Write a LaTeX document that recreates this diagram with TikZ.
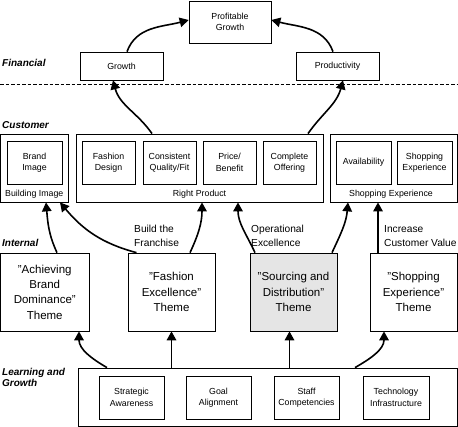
\documentclass[tikz,border=0pt]{standalone}
\usepackage{fontspec}
\setmainfont{Liberation Sans}
\usetikzlibrary{arrows.meta}

\begin{document}
\begin{tikzpicture}[x=1pt,y=-1pt,
    box/.style={draw,line width=0.7pt,inner sep=0pt,align=center,font=\fontsize{8.8}{11.5}\selectfont},
    item/.style={box,minimum width=53pt,minimum height=43pt},
    group/.style={draw,line width=0.8pt,inner sep=0pt},
    caption/.style={box,draw=none},
    theme/.style={box,minimum width=87pt,minimum height=78pt,font=\fontsize{11.5}{15.4}\selectfont},
    perspective/.style={anchor=west,align=left,inner sep=2pt,font=\fontsize{10}{11.7}\selectfont\bfseries\itshape},
    note/.style={anchor=west,align=left,inner sep=1pt,font=\fontsize{10.2}{14}\selectfont},
    flow/.style={-{Triangle[length=9pt,width=9.5pt]},line width=1.6pt}]

    \useasboundingbox (0,0) rectangle (458,427);

    % Financial
    \node[box,minimum width=82pt,minimum height=42pt] (pg) at (230,22) {Profitable\\Growth};
    \node[box,minimum width=83pt,minimum height=28pt] (gr) at (121.5,66) {Growth};
    \node[box,minimum width=83pt,minimum height=28pt] (pr) at (337.5,66) {Productivity};
    \draw[line width=1pt,dash pattern=on 3.5pt off 2pt] (0,85) -- (458,85);

    % Customer
    \node[group,minimum width=67.5pt,minimum height=68pt] (bi) at (34.25,168) {};
    \node[item,minimum width=55pt] (brand) at (34.5,162.5) {Brand\\Image};
    \node[caption] (bilabel) at (34.25,194) {Building Image};

    \node[group,minimum width=247pt,minimum height=68pt] (rp) at (199.5,168) {};
    \node[item] (fd) at (108.5,162.5) {Fashion\\Design};
    \node[item] (cq) at (169.5,162.5) {Consistent\\Quality/Fit};
    \node[item] (pb) at (229.5,162.5) {Price/\\Benefit};
    \node[item] (co) at (289.5,162.5) {Complete\\Offering};
    \node[caption] (rplabel) at (199.5,194) {Right Product};

    \node[group,minimum width=127pt,minimum height=68pt] (se) at (393.5,168) {};
    \node[item,minimum width=55pt] (av) at (363.5,162.5) {Availability};
    \node[item,minimum width=55pt] (sx) at (424.5,162.5) {Shopping\\Experience};
    \node[caption] (selabel) at (391,194) {Shopping Experience};

    % Internal themes
    \node[theme,minimum width=88.5pt] (ach) at (44.75,292) {"Achieving\\Brand\\Dominance"\\Theme};
    \node[theme] (fe) at (171.5,292) {"Fashion\\Excellence"\\Theme};
    \node[theme,fill=black!10] (sd) at (293.5,292) {"Sourcing and\\Distribution"\\Theme};
    \node[theme] (st) at (413.5,292) {"Shopping\\Experience"\\Theme};

    % Learning and growth
    \node[group,minimum width=379pt,minimum height=58pt] (lg) at (267.5,397) {};
    \node[item,minimum width=65pt] (sa) at (131.5,397.5) {Strategic\\Awareness};
    \node[item,minimum width=65pt] (ga) at (218.5,397.5) {Goal\\Alignment};
    \node[item,minimum width=65pt] (sc) at (306.5,397.5) {Staff\\Competencies};
    \node[item,minimum width=66pt] (ti) at (396,397.5) {Technology\\Infrastructure};

    % perspective names
    \node[perspective] (fin) at (0,63) {Financial};
    \node[perspective] (cus) at (0,125) {Customer};
    \node[perspective] (int) at (0,243) {Internal};
    \node[perspective] (lrn) at (0,377.5) {Learning and\\Growth};

    % labels on the arrows
    \node[note] (bf) at (133,236) {Build the\\Franchise};
    \node[note] (oe) at (250,236) {Operational\\Excellence};
    \node[note] (ic) at (383,236) {Increase\\Customer Value};

    % arrows into financial
    \draw[flow] ([xshift=5.5pt]gr.north) to[out=70,in=195] ([yshift=2pt]pg.west);
    \draw[flow] ([xshift=-4.5pt]pr.north) to[out=110,in=-15] ([yshift=2pt]pg.east);
    \draw[flow] ([xshift=-47.5pt]rp.north) to[out=125,in=-75] ([xshift=-8.5pt]gr.south);
    \draw[flow] ([xshift=108.5pt]rp.north) to[out=55,in=-105] ([xshift=5.5pt]pr.south);

    % arrows into customer
    \draw[flow] ([xshift=12.25pt]ach.north) to[out=115,in=-85] ([xshift=11.75pt]bi.south);
    \draw[flow] ([xshift=-35pt]fe.north) to[out=165,in=-50] ([xshift=25.75pt]bi.south);
    \draw[flow] ([xshift=18.5pt]fe.north) to[out=65,in=-90] ([xshift=2.5pt]rp.south);
    \draw[flow] ([xshift=-38.5pt]sd.north) to[out=115,in=-90] ([xshift=38.5pt]rp.south);
    \draw[flow] ([xshift=38.5pt]sd.north) to[out=65,in=-95] ([xshift=-45.5pt]se.south);
    \draw[flow] ([xshift=-35.5pt]st.north) -- ([xshift=-15.5pt]se.south);

    % arrows into internal
    \draw[flow] ([xshift=-160.5pt]lg.north) to[out=150,in=-90] ([xshift=34.25pt]ach.south);
    \draw[flow] (lg.north -| fe.south) -- (fe.south);
    \draw[flow] ([xshift=-4pt]sd.south |- lg.north) -- ([xshift=-4pt]sd.south);
    \draw[flow] ([xshift=87.5pt]lg.north) to[out=30,in=-90] ([xshift=-29.5pt]st.south);

\end{tikzpicture}
\end{document}
